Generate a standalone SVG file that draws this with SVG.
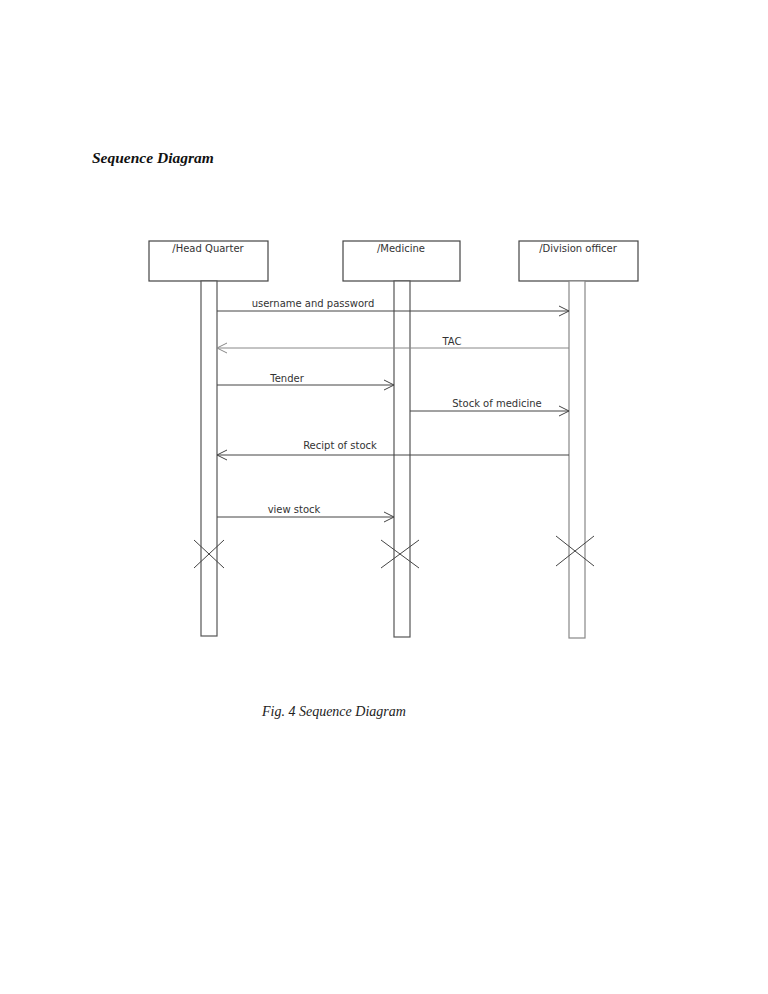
<svg xmlns="http://www.w3.org/2000/svg" width="768" height="994" viewBox="0 0 768 994">
<style>
.box{fill:#fff;stroke:#444;stroke-width:1.2}
.bar{fill:#fff;stroke:#555;stroke-width:1.2}
.lbl{font-family:"DejaVu Sans",sans-serif;font-size:10px;fill:#333}
.msg{stroke:#444;stroke-width:1;fill:none}
.ret{stroke:#888;stroke-width:1;fill:none}
.x{stroke:#444;stroke-width:1}
</style>
<defs>
<marker id="ah" markerWidth="12" markerHeight="12" refX="11" refY="6" orient="auto" markerUnits="userSpaceOnUse"><path d="M1,1 L11,6 L1,11" fill="none" stroke="#444" stroke-width="1"/></marker>
<marker id="ahg" markerWidth="12" markerHeight="12" refX="11" refY="6" orient="auto" markerUnits="userSpaceOnUse"><path d="M1,1 L11,6 L1,11" fill="none" stroke="#888" stroke-width="1"/></marker>
</defs>
<rect width="768" height="994" fill="#fff"/>
<text x="92" y="163" font-family="Liberation Serif,serif" font-size="15.5" font-weight="bold" font-style="italic" fill="#111">Sequence Diagram</text>
<g id="hq"><rect class="box" x="149" y="241" width="119" height="40"/><text class="lbl" x="208" y="252" text-anchor="middle">/Head Quarter</text><rect class="bar" x="201" y="281" width="16" height="355"/><path class="x" d="M194,540 L224,568 M194,568 L224,540"/></g>
<g id="med"><rect class="box" x="343" y="241" width="117" height="40"/><text class="lbl" x="401" y="252" text-anchor="middle">/Medicine</text><rect class="bar" x="394" y="281" width="16" height="356"/><path class="x" d="M381,540 L419,568 M381,568 L419,540"/></g>
<g id="div"><rect class="box" x="519" y="241" width="119" height="40"/><text class="lbl" x="578" y="252" text-anchor="middle">/Division officer</text><rect class="bar" x="569" y="281" width="16" height="357" style="stroke:#888"/><path class="x" d="M556,536 L594,566 M556,566 L594,536"/></g>
<g id="connectors">
<line class="msg" x1="217" y1="311" x2="569" y2="311" marker-end="url(#ah)"/>
<text class="lbl" x="313" y="307" text-anchor="middle">username and password</text>
<line class="ret" x1="569" y1="348" x2="217" y2="348" marker-end="url(#ahg)"/>
<text class="lbl" x="452" y="345" text-anchor="middle">TAC</text>
<line class="msg" x1="217" y1="385" x2="394" y2="385" marker-end="url(#ah)"/>
<text class="lbl" x="287" y="382" text-anchor="middle">Tender</text>
<line class="msg" x1="410" y1="411" x2="569" y2="411" marker-end="url(#ah)"/>
<text class="lbl" x="497" y="407" text-anchor="middle">Stock of medicine</text>
<line class="msg" x1="569" y1="455" x2="217" y2="455" marker-end="url(#ah)"/>
<text class="lbl" x="340" y="449" text-anchor="middle">Recipt of stock</text>
<line class="msg" x1="217" y1="517" x2="394" y2="517" marker-end="url(#ah)"/>
<text class="lbl" x="294" y="513" text-anchor="middle">view stock</text>
</g>
<text x="262" y="716" font-family="Liberation Serif,serif" font-size="14" font-style="italic" fill="#222">Fig. 4 Sequence Diagram</text>
</svg>
